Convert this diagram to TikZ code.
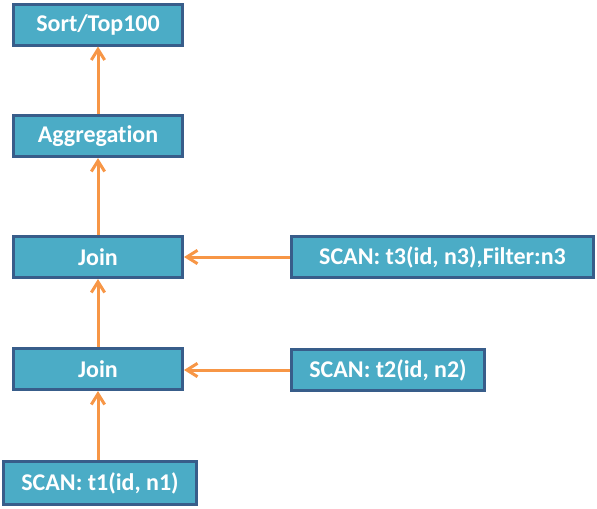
\documentclass[tikz,border=0pt]{standalone}
\usepackage{fontspec}
\setmainfont[RawFeature={-liga;-clig;-dlig;-calt}]{Carlito}
\usetikzlibrary{arrows.meta}
\definecolor{boxfill}{HTML}{4BACC6}
\definecolor{boxline}{HTML}{385D8A}
\definecolor{flow}{HTML}{F79646}

\begin{document}
\begin{tikzpicture}[x=0.75pt, y=-0.75pt,
    op/.style={draw=boxline, line width=2.25pt, fill=boxfill, text=white,
        font=\fontsize{18}{20}\selectfont\bfseries, minimum height=30.75pt, inner sep=0pt},
    flowline/.style={draw=flow, line width=2.25pt, -{Straight Barb[length=8pt, width=10pt]}}]
    \useasboundingbox (0,0) rectangle (597,508);

    % Operators
    \node [op, minimum width=126.75pt] (sort) at (98,24.5) {Sort/Top100};
    \node [op, minimum width=126.75pt] (agg) at (98,136) {Aggregation};
    \node [op, minimum width=126.75pt] (joina) at (98,257) {Join};
    \node [op, minimum width=126.75pt] (joinb) at (98,369) {Join};

    % Scans
    \node [op, minimum width=227pt] (scanc) at (442.5,257) {SCAN: t3(id, n3),Filter:n3};
    \node [op, minimum width=145pt] (scanb) at (388,370) {SCAN: t2(id, n2)};
    \node [op, minimum width=145pt, minimum height=32pt] (scana) at (100,483) {SCAN: t1(id, n1)};

    % Arrows
    \draw [flowline] (scana.north -| joinb.south) -- (joinb.south);
    \draw [flowline] (joinb) -- (joina);
    \draw [flowline] (joina) -- (agg);
    \draw [flowline] (agg) -- (sort);
    \draw [flowline] (scanc.west) -- (joina.east);
    \draw [flowline] (scanb.west) -- (joinb.east |- scanb.west);
\end{tikzpicture}
\end{document}
